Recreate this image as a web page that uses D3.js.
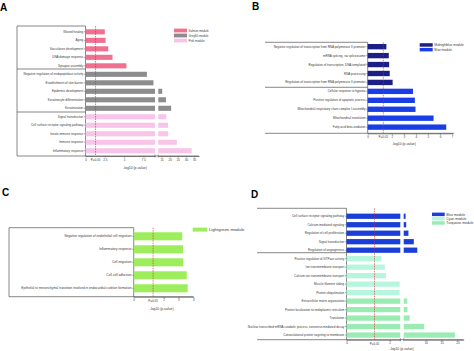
<!DOCTYPE html>
<html>
<head>
<meta charset="utf-8">
<script src="https://cdn.jsdelivr.net/npm/d3@7"></script>
<style>
  body { margin: 0; background: #fff; }
  svg { display: block; font-family: "Liberation Sans", Arial, sans-serif; }
</style>
</head>
<body>
<div id="chart"></div>
<script>
// ---- panel A ----
const aLabels = ["Wound healing", "Aging", "Vasculature development", "DNA damage response", "Synapse assembly",
  "Negative regulation of endopeptidase activity", "Establishment of skin barrier", "Epidermis development",
  "Keratinocyte differentiation", "Keratinization",
  "Signal transduction", "Cell surface receptor signaling pathway", "Innate immune response",
  "Immune response", "Inflammatory response"];
const aValues = [2.5, 2.6, 2.95, 3.5, 5.3, 7.95, 8.8, 15.4, 17.7, 20.9, 17.9, 19.0, 19.1, 24.4, 33.5];
const aGroup = [0, 0, 0, 0, 0, 1, 1, 1, 1, 1, 2, 2, 2, 2, 2];
const aModules = ["Salmon module", "Grey60 module", "Pink module"];

// ---- panel B ----
const bLabels = ["Negative regulation of transcription from RNA polymerase II promoter",
  "mRNA splicing, via spliceosome", "Regulation of transcription, DNA-templated", "RNA processing",
  "Regulation of transcription from RNA polymerase II promoter",
  "Cellular response to hypoxia", "Positive regulation of apoptotic process",
  "Mitochondrial respiratory chain complex I assembly", "Mitochondrial translation", "Fatty acid beta-oxidation"];
const bValues = [1.55, 1.75, 1.78, 1.83, 2.07, 3.76, 3.92, 3.97, 5.47, 6.52];
const bGroup = [0, 0, 0, 0, 0, 1, 1, 1, 1, 1];
const bModules = ["Midnightblue module", "Blue module"];

// ---- panel C ----
const cLabels = ["Negative regulation of endothelial cell migration", "Inflammatory response", "Cell migration",
  "Cell-cell adhesion", "Epithelial to mesenchymal transition involved in endocardial cushion formation"];
const cValues = [3.26, 3.31, 3.33, 3.56, 3.62];
const cGroup = [0, 0, 0, 0, 0];
const cModules = ["Lightgreen module"];

// ---- panel D ----
const dLabels = ["Cell surface receptor signaling pathway", "Calcium-mediated signaling",
  "Regulation of cell proliferation", "Signal transduction", "Regulation of angiogenesis",
  "Positive regulation of GTPase activity", "Ion transmembrane transport",
  "Calcium ion transmembrane transport", "Muscle filament sliding", "Protein ubiquitination",
  "Extracellular matrix organization", "Protein localization to endoplasmic reticulum", "Translation",
  "Nuclear-transcribed mRNA catabolic process, nonsense-mediated decay",
  "Cotranslational protein targeting to membrane"];
const dValues = [3.6, 3.8, 4.5, 6.2, 7.3, 1.62, 1.78, 1.84, 2.47, 2.47, 4.1, 4.2, 4.9, 9.5, 19.2];
const dGroup = [0, 0, 0, 0, 0, 1, 1, 1, 1, 1, 2, 2, 2, 2, 2];
const dModules = ["Blue module", "Cyan module", "Turquoise module"];

const pCut = 1.3; // -log10(0.05)

const W = 474, H = 351;
const svg = d3.select("#chart").append("svg").attr("width", W).attr("height", H);

const lineCol = "#555";
const txtCol = "#3a3a3a";

function panel(cfg) {
  const g = svg.append("g");
  const n = cfg.labels.length;
  const y = d3.scaleBand().domain(d3.range(n)).range(cfg.yRange).paddingInner(cfg.pad).paddingOuter(cfg.pad / 2);
  const x1 = d3.scaleLinear().domain(cfg.d1).range(cfg.r1);
  const x2 = cfg.d2 ? d3.scaleLinear().domain(cfg.d2).range(cfg.r2) : null;
  const x0 = x1(0);

  // frame lines
  cfg.hLines.forEach(l => {
    g.append("line").attr("x1", l[0]).attr("x2", l[1]).attr("y1", l[2]).attr("y2", l[2])
      .attr("stroke", lineCol).attr("stroke-width", 0.7);
  });
  if (cfg.leftX != null) {
    g.append("line").attr("x1", cfg.leftX).attr("x2", cfg.leftX).attr("y1", cfg.frameTop).attr("y2", cfg.axisY)
      .attr("stroke", lineCol).attr("stroke-width", 0.7);
  }
  g.append("line").attr("x1", x0).attr("x2", x0).attr("y1", cfg.frameTop).attr("y2", cfg.axisY)
    .attr("stroke", lineCol).attr("stroke-width", 0.7);

  // bars (first segment)
  g.selectAll(".b1").data(cfg.values).enter().append("rect")
    .attr("x", x0)
    .attr("y", (d, i) => y(i))
    .attr("width", d => x1(Math.min(d, cfg.d1[1])) - x0)
    .attr("height", y.bandwidth())
    .attr("fill", (d, i) => cfg.colors[cfg.group[i]]);

  // bars (second segment of broken axis)
  if (x2) {
    g.selectAll(".b2").data(cfg.values.map((v, i) => ({ v, i })).filter(d => d.v > cfg.d1[1])).enter().append("rect")
      .attr("x", cfg.r2[0])
      .attr("y", d => y(d.i))
      .attr("width", d => x2(d.v) - cfg.r2[0])
      .attr("height", y.bandwidth())
      .attr("fill", d => cfg.colors[cfg.group[d.i]]);
  }

  // significance line
  g.append("line").attr("x1", x1(pCut)).attr("x2", x1(pCut)).attr("y1", cfg.frameTop).attr("y2", cfg.axisY)
    .attr("stroke", "#d42a2a").attr("stroke-width", 0.6).attr("stroke-dasharray", "1.5,1");

  // category labels + small ticks
  g.selectAll(".lab").data(cfg.labels).enter().append("text")
    .attr("x", x0 - 2.2)
    .attr("y", (d, i) => y(i) + y.bandwidth() / 2)
    .attr("dy", "0.35em")
    .attr("text-anchor", "end")
    .attr("font-size", cfg.fs)
    .attr("fill", txtCol)
    .text(d => d);
  g.selectAll(".ytk").data(cfg.labels).enter().append("line")
    .attr("x1", x0 - 1.5).attr("x2", x0)
    .attr("y1", (d, i) => y(i) + y.bandwidth() / 2)
    .attr("y2", (d, i) => y(i) + y.bandwidth() / 2)
    .attr("stroke", lineCol).attr("stroke-width", 0.5);

  // x axes
  const ax1 = d3.axisBottom(x1).tickValues(cfg.t1).tickSize(1.5).tickSizeOuter(0).tickFormat(d3.format(""));
  const a1 = g.append("g").attr("transform", `translate(0,${cfg.axisY})`).call(ax1);
  a1.select(".domain").attr("stroke", lineCol).attr("stroke-width", 0.7);
  a1.selectAll(".tick line").attr("stroke", lineCol).attr("stroke-width", 0.5);
  a1.selectAll("text").attr("font-size", 3).attr("fill", txtCol).attr("y", 2.5).attr("font-family", null);
  if (x2) {
    const ax2 = d3.axisBottom(x2).tickValues(cfg.t2).tickSize(1.5).tickSizeOuter(0).tickFormat(d3.format(""));
    const a2 = g.append("g").attr("transform", `translate(0,${cfg.axisY})`).call(ax2);
    a2.select(".domain").attr("stroke", lineCol).attr("stroke-width", 0.7);
    a2.selectAll(".tick line").attr("stroke", lineCol).attr("stroke-width", 0.5);
    a2.selectAll("text").attr("font-size", 3).attr("fill", txtCol).attr("y", 2.5).attr("font-family", null);
    // break marks
    [cfg.r1[1], cfg.r2[0]].forEach(bx => {
      g.append("line").attr("x1", bx).attr("x2", bx).attr("y1", cfg.axisY - 1.5).attr("y2", cfg.axisY + 1.5)
        .attr("stroke", lineCol).attr("stroke-width", 0.6);
    });
  }
  g.append("text").attr("x", x1(pCut)).attr("y", cfg.axisY + 5)
    .attr("text-anchor", "middle").attr("font-size", 3).attr("fill", txtCol).text("P=0.05");

  // axis title
  g.append("text").attr("x", cfg.titleX).attr("y", cfg.titleY).attr("text-anchor", "middle")
    .attr("font-size", 3.4).attr("fill", txtCol).text("-log10 (p-value)");

  // legend
  cfg.modules.forEach((m, k) => {
    g.append("rect").attr("x", cfg.legX).attr("y", cfg.legY + k * cfg.legStep)
      .attr("width", cfg.legW).attr("height", cfg.legH).attr("fill", cfg.colors[k]);
    g.append("text").attr("x", cfg.legX + cfg.legW + 1.6).attr("y", cfg.legY + k * cfg.legStep + cfg.legH / 2)
      .attr("dy", "0.35em").attr("font-size", cfg.legFs).attr("fill", txtCol).text(m);
  });

  // panel letter
  svg.append("text").attr("x", cfg.letterX).attr("y", cfg.letterY)
    .attr("font-size", 10).attr("font-weight", "bold")
    .text(cfg.letter);
}

panel({
  letter: "A", letterX: 0, letterY: 11,
  labels: aLabels, values: aValues, group: aGroup, modules: aModules,
  colors: ["#f0708f", "#8c8c8c", "#f8c4ea"],
  yRange: [27.6, 155], pad: 0.4, fs: 3,
  d1: [0, 9], r1: [85.5, 155], t1: [0, 2.5, 5, 7.5],
  d2: [13, 38], r2: [158.3, 199], t2: [15, 20, 25, 30, 35],
  frameTop: 26, axisY: 156, leftX: 17,
  hLines: [[17, 85.5, 26], [17, 85.5, 69], [17, 85.5, 112], [17, 199, 156]],
  titleX: 135, titleY: 168.5,
  legX: 174, legY: 28.6, legStep: 5, legW: 13, legH: 3.8, legFs: 2.9
});

panel({
  letter: "B", letterX: 252, letterY: 10,
  labels: bLabels, values: bValues, group: bGroup, modules: bModules,
  colors: ["#1b1f86", "#1a3ee6"],
  yRange: [42.2, 131.6], pad: 0.4, fs: 3,
  d1: [0, 7], r1: [367.7, 452], t1: [0, 2, 3, 4, 5, 6, 7],
  frameTop: 42.3, axisY: 133.3, leftX: null,
  hLines: [[265, 367.7, 42.3], [265, 367.7, 87.3], [265, 454, 133.3]],
  titleX: 404, titleY: 144.5,
  legX: 419.7, legY: 43.2, legStep: 4.7, legW: 13, legH: 3.5, legFs: 3.2
});

panel({
  letter: "C", letterX: 2, letterY: 196,
  labels: cLabels, values: cValues, group: cGroup, modules: cModules,
  colors: ["#9ded5c"],
  yRange: [229.8, 294.8], pad: 0.38, fs: 3.2,
  d1: [0, 4], r1: [133.7, 193.3], t1: [0, 2, 3, 4],
  frameTop: 227.7, axisY: 296.7, leftX: 9,
  hLines: [[9, 133.7, 227.7], [9, 193.3, 296.7]],
  titleX: 161.7, titleY: 310,
  legX: 192.7, legY: 227.6, legStep: 5, legW: 14.6, legH: 4, legFs: 4.3
});

panel({
  letter: "D", letterX: 251, letterY: 198,
  labels: dLabels, values: dValues, group: dGroup, modules: dModules,
  colors: ["#1a3ed8", "#b6f6dc", "#9aecb2"],
  yRange: [212, 339.3], pad: 0.38, fs: 3,
  d1: [0, 2.5], r1: [346.5, 400.3], t1: [0, 2],
  d2: [3, 22], r2: [403.7, 463.7], t2: [10, 15, 20],
  frameTop: 208.3, axisY: 339.7, leftX: null,
  hLines: [[257, 346.5, 208.3], [257, 346.5, 252.7], [257, 463.7, 339.7]],
  titleX: 401.7, titleY: 349.5,
  legX: 432, legY: 212.6, legStep: 4.3, legW: 12.7, legH: 3.5, legFs: 3.4
});
</script>
</body>
</html>
